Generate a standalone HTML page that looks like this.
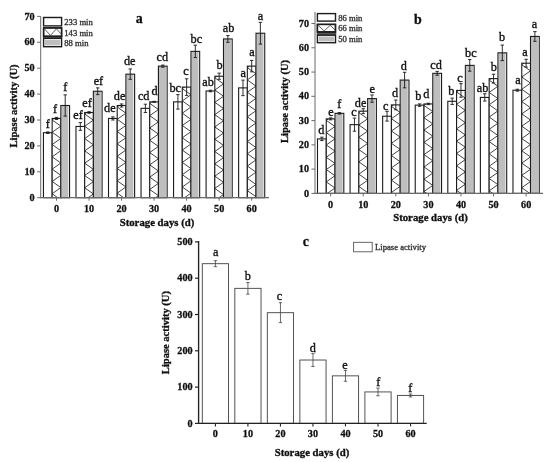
<!DOCTYPE html>
<html><head><meta charset="utf-8"><title>Lipase activity</title>
<style>
html,body{margin:0;padding:0;background:#fff;}
svg{display:block;font-family:"Liberation Serif","DejaVu Serif",serif;}
</style></head><body>
<svg width="550" height="462" viewBox="0 0 550 462">
<defs><filter id="soft" x="0" y="0" width="550" height="462" filterUnits="userSpaceOnUse"><feGaussianBlur stdDeviation="0.4"/></filter></defs>
<rect x="0" y="0" width="550" height="462" fill="#fff"/>
<g filter="url(#soft)">
<rect x="43.45" y="132.69" width="8.70" height="65.01" fill="#fff" stroke="none" stroke-width="0"/>
<rect x="43.45" y="132.69" width="8.70" height="65.01" fill="none" stroke="#1c1c1c" stroke-width="1.1"/>
<line x1="47.80" y1="131.91" x2="47.80" y2="133.47" stroke="#1a1a1a" stroke-width="0.9"/>
<line x1="46.10" y1="131.91" x2="49.50" y2="131.91" stroke="#1a1a1a" stroke-width="0.9"/>
<line x1="46.10" y1="133.47" x2="49.50" y2="133.47" stroke="#1a1a1a" stroke-width="0.9"/>
<rect x="52.15" y="118.45" width="8.70" height="79.25" fill="#fff" stroke="none" stroke-width="0"/>
<clipPath id="c1"><rect x="52.15" y="118.45" width="8.70" height="79.25"/></clipPath>
<polyline clip-path="url(#c1)" points="52.15,107.65 60.85,113.80 52.15,119.95 60.85,126.10 52.15,132.25 60.85,138.40 52.15,144.55 60.85,150.70 52.15,156.85 60.85,163.00 52.15,169.15 60.85,175.30 52.15,181.45 60.85,187.60 52.15,193.75 60.85,199.90" fill="none" stroke="#222" stroke-width="0.85"/>
<rect x="52.15" y="118.45" width="8.70" height="79.25" fill="none" stroke="#1c1c1c" stroke-width="1.1"/>
<line x1="56.50" y1="117.41" x2="56.50" y2="119.48" stroke="#1a1a1a" stroke-width="0.9"/>
<line x1="54.80" y1="117.41" x2="58.20" y2="117.41" stroke="#1a1a1a" stroke-width="0.9"/>
<line x1="54.80" y1="119.48" x2="58.20" y2="119.48" stroke="#1a1a1a" stroke-width="0.9"/>
<rect x="60.85" y="105.50" width="8.70" height="92.20" fill="#fff" stroke="none" stroke-width="0"/>
<rect x="61.45" y="105.50" width="6.90" height="92.20" fill="#bebebe"/>
<rect x="60.85" y="105.50" width="8.70" height="92.20" fill="none" stroke="#1c1c1c" stroke-width="1.1"/>
<line x1="65.20" y1="94.88" x2="65.20" y2="116.11" stroke="#1a1a1a" stroke-width="0.9"/>
<line x1="63.50" y1="94.88" x2="66.90" y2="94.88" stroke="#1a1a1a" stroke-width="0.9"/>
<line x1="63.50" y1="116.11" x2="66.90" y2="116.11" stroke="#1a1a1a" stroke-width="0.9"/>
<rect x="75.98" y="126.47" width="8.70" height="71.22" fill="#fff" stroke="none" stroke-width="0"/>
<rect x="75.98" y="126.47" width="8.70" height="71.22" fill="none" stroke="#1c1c1c" stroke-width="1.1"/>
<line x1="80.33" y1="122.59" x2="80.33" y2="130.36" stroke="#1a1a1a" stroke-width="0.9"/>
<line x1="78.63" y1="122.59" x2="82.03" y2="122.59" stroke="#1a1a1a" stroke-width="0.9"/>
<line x1="78.63" y1="130.36" x2="82.03" y2="130.36" stroke="#1a1a1a" stroke-width="0.9"/>
<rect x="84.68" y="112.49" width="8.70" height="85.21" fill="#fff" stroke="none" stroke-width="0"/>
<clipPath id="c2"><rect x="84.68" y="112.49" width="8.70" height="85.21"/></clipPath>
<polyline clip-path="url(#c2)" points="84.68,101.69 93.38,107.84 84.68,113.99 93.38,120.14 84.68,126.29 93.38,132.44 84.68,138.59 93.38,144.74 84.68,150.89 93.38,157.04 84.68,163.19 93.38,169.34 84.68,175.49 93.38,181.64 84.68,187.79 93.38,193.94 84.68,200.09" fill="none" stroke="#222" stroke-width="0.85"/>
<rect x="84.68" y="112.49" width="8.70" height="85.21" fill="none" stroke="#1c1c1c" stroke-width="1.1"/>
<line x1="89.03" y1="111.71" x2="89.03" y2="113.27" stroke="#1a1a1a" stroke-width="0.9"/>
<line x1="87.33" y1="111.71" x2="90.73" y2="111.71" stroke="#1a1a1a" stroke-width="0.9"/>
<line x1="87.33" y1="113.27" x2="90.73" y2="113.27" stroke="#1a1a1a" stroke-width="0.9"/>
<rect x="93.38" y="91.25" width="8.70" height="106.45" fill="#fff" stroke="none" stroke-width="0"/>
<rect x="93.98" y="91.25" width="6.90" height="106.45" fill="#bebebe"/>
<rect x="93.38" y="91.25" width="8.70" height="106.45" fill="none" stroke="#1c1c1c" stroke-width="1.1"/>
<line x1="97.73" y1="87.88" x2="97.73" y2="94.62" stroke="#1a1a1a" stroke-width="0.9"/>
<line x1="96.03" y1="87.88" x2="99.43" y2="87.88" stroke="#1a1a1a" stroke-width="0.9"/>
<line x1="96.03" y1="94.62" x2="99.43" y2="94.62" stroke="#1a1a1a" stroke-width="0.9"/>
<rect x="108.51" y="118.45" width="8.70" height="79.25" fill="#fff" stroke="none" stroke-width="0"/>
<rect x="108.51" y="118.45" width="8.70" height="79.25" fill="none" stroke="#1c1c1c" stroke-width="1.1"/>
<line x1="112.86" y1="116.89" x2="112.86" y2="120.00" stroke="#1a1a1a" stroke-width="0.9"/>
<line x1="111.16" y1="116.89" x2="114.56" y2="116.89" stroke="#1a1a1a" stroke-width="0.9"/>
<line x1="111.16" y1="120.00" x2="114.56" y2="120.00" stroke="#1a1a1a" stroke-width="0.9"/>
<rect x="117.21" y="105.50" width="8.70" height="92.20" fill="#fff" stroke="none" stroke-width="0"/>
<clipPath id="c3"><rect x="117.21" y="105.50" width="8.70" height="92.20"/></clipPath>
<polyline clip-path="url(#c3)" points="117.21,94.70 125.91,100.85 117.21,107.00 125.91,113.15 117.21,119.30 125.91,125.45 117.21,131.60 125.91,137.75 117.21,143.90 125.91,150.05 117.21,156.20 125.91,162.35 117.21,168.50 125.91,174.65 117.21,180.80 125.91,186.95 117.21,193.10 125.91,199.25" fill="none" stroke="#222" stroke-width="0.85"/>
<rect x="117.21" y="105.50" width="8.70" height="92.20" fill="none" stroke="#1c1c1c" stroke-width="1.1"/>
<line x1="121.56" y1="103.94" x2="121.56" y2="107.05" stroke="#1a1a1a" stroke-width="0.9"/>
<line x1="119.86" y1="103.94" x2="123.26" y2="103.94" stroke="#1a1a1a" stroke-width="0.9"/>
<line x1="119.86" y1="107.05" x2="123.26" y2="107.05" stroke="#1a1a1a" stroke-width="0.9"/>
<rect x="125.91" y="74.16" width="8.70" height="123.54" fill="#fff" stroke="none" stroke-width="0"/>
<rect x="126.51" y="74.16" width="6.90" height="123.54" fill="#bebebe"/>
<rect x="125.91" y="74.16" width="8.70" height="123.54" fill="none" stroke="#1c1c1c" stroke-width="1.1"/>
<line x1="130.26" y1="68.98" x2="130.26" y2="79.34" stroke="#1a1a1a" stroke-width="0.9"/>
<line x1="128.56" y1="68.98" x2="131.96" y2="68.98" stroke="#1a1a1a" stroke-width="0.9"/>
<line x1="128.56" y1="79.34" x2="131.96" y2="79.34" stroke="#1a1a1a" stroke-width="0.9"/>
<rect x="141.04" y="108.34" width="8.70" height="89.35" fill="#fff" stroke="none" stroke-width="0"/>
<rect x="141.04" y="108.34" width="8.70" height="89.35" fill="none" stroke="#1c1c1c" stroke-width="1.1"/>
<line x1="145.39" y1="104.20" x2="145.39" y2="112.49" stroke="#1a1a1a" stroke-width="0.9"/>
<line x1="143.69" y1="104.20" x2="147.09" y2="104.20" stroke="#1a1a1a" stroke-width="0.9"/>
<line x1="143.69" y1="112.49" x2="147.09" y2="112.49" stroke="#1a1a1a" stroke-width="0.9"/>
<rect x="149.74" y="101.87" width="8.70" height="95.83" fill="#fff" stroke="none" stroke-width="0"/>
<clipPath id="c4"><rect x="149.74" y="101.87" width="8.70" height="95.83"/></clipPath>
<polyline clip-path="url(#c4)" points="149.74,91.07 158.44,97.22 149.74,103.37 158.44,109.52 149.74,115.67 158.44,121.82 149.74,127.97 158.44,134.12 149.74,140.27 158.44,146.42 149.74,152.57 158.44,158.72 149.74,164.87 158.44,171.02 149.74,177.17 158.44,183.32 149.74,189.47 158.44,195.62 149.74,201.77" fill="none" stroke="#222" stroke-width="0.85"/>
<rect x="149.74" y="101.87" width="8.70" height="95.83" fill="none" stroke="#1c1c1c" stroke-width="1.1"/>
<line x1="154.09" y1="101.35" x2="154.09" y2="102.39" stroke="#1a1a1a" stroke-width="0.9"/>
<line x1="152.39" y1="101.35" x2="155.79" y2="101.35" stroke="#1a1a1a" stroke-width="0.9"/>
<line x1="152.39" y1="102.39" x2="155.79" y2="102.39" stroke="#1a1a1a" stroke-width="0.9"/>
<rect x="158.44" y="66.13" width="8.70" height="131.57" fill="#fff" stroke="none" stroke-width="0"/>
<rect x="159.04" y="66.13" width="6.90" height="131.57" fill="#bebebe"/>
<rect x="158.44" y="66.13" width="8.70" height="131.57" fill="none" stroke="#1c1c1c" stroke-width="1.1"/>
<line x1="162.79" y1="65.09" x2="162.79" y2="67.16" stroke="#1a1a1a" stroke-width="0.9"/>
<line x1="161.09" y1="65.09" x2="164.49" y2="65.09" stroke="#1a1a1a" stroke-width="0.9"/>
<line x1="161.09" y1="67.16" x2="164.49" y2="67.16" stroke="#1a1a1a" stroke-width="0.9"/>
<rect x="173.57" y="101.87" width="8.70" height="95.83" fill="#fff" stroke="none" stroke-width="0"/>
<rect x="173.57" y="101.87" width="8.70" height="95.83" fill="none" stroke="#1c1c1c" stroke-width="1.1"/>
<line x1="177.92" y1="94.62" x2="177.92" y2="109.12" stroke="#1a1a1a" stroke-width="0.9"/>
<line x1="176.22" y1="94.62" x2="179.62" y2="94.62" stroke="#1a1a1a" stroke-width="0.9"/>
<line x1="176.22" y1="109.12" x2="179.62" y2="109.12" stroke="#1a1a1a" stroke-width="0.9"/>
<rect x="182.27" y="87.11" width="8.70" height="110.59" fill="#fff" stroke="none" stroke-width="0"/>
<clipPath id="c5"><rect x="182.27" y="87.11" width="8.70" height="110.59"/></clipPath>
<polyline clip-path="url(#c5)" points="182.27,76.31 190.97,82.46 182.27,88.61 190.97,94.76 182.27,100.91 190.97,107.06 182.27,113.21 190.97,119.36 182.27,125.51 190.97,131.66 182.27,137.81 190.97,143.96 182.27,150.11 190.97,156.26 182.27,162.41 190.97,168.56 182.27,174.71 190.97,180.86 182.27,187.01 190.97,193.16 182.27,199.31" fill="none" stroke="#222" stroke-width="0.85"/>
<rect x="182.27" y="87.11" width="8.70" height="110.59" fill="none" stroke="#1c1c1c" stroke-width="1.1"/>
<line x1="186.62" y1="78.82" x2="186.62" y2="95.39" stroke="#1a1a1a" stroke-width="0.9"/>
<line x1="184.92" y1="78.82" x2="188.32" y2="78.82" stroke="#1a1a1a" stroke-width="0.9"/>
<line x1="184.92" y1="95.39" x2="188.32" y2="95.39" stroke="#1a1a1a" stroke-width="0.9"/>
<rect x="190.97" y="51.37" width="8.70" height="146.33" fill="#fff" stroke="none" stroke-width="0"/>
<rect x="191.57" y="51.37" width="6.90" height="146.33" fill="#bebebe"/>
<rect x="190.97" y="51.37" width="8.70" height="146.33" fill="none" stroke="#1c1c1c" stroke-width="1.1"/>
<line x1="195.32" y1="45.15" x2="195.32" y2="57.58" stroke="#1a1a1a" stroke-width="0.9"/>
<line x1="193.62" y1="45.15" x2="197.02" y2="45.15" stroke="#1a1a1a" stroke-width="0.9"/>
<line x1="193.62" y1="57.58" x2="197.02" y2="57.58" stroke="#1a1a1a" stroke-width="0.9"/>
<rect x="206.10" y="90.99" width="8.70" height="106.71" fill="#fff" stroke="none" stroke-width="0"/>
<rect x="206.10" y="90.99" width="8.70" height="106.71" fill="none" stroke="#1c1c1c" stroke-width="1.1"/>
<line x1="210.45" y1="90.21" x2="210.45" y2="91.77" stroke="#1a1a1a" stroke-width="0.9"/>
<line x1="208.75" y1="90.21" x2="212.15" y2="90.21" stroke="#1a1a1a" stroke-width="0.9"/>
<line x1="208.75" y1="91.77" x2="212.15" y2="91.77" stroke="#1a1a1a" stroke-width="0.9"/>
<rect x="214.80" y="76.23" width="8.70" height="121.47" fill="#fff" stroke="none" stroke-width="0"/>
<clipPath id="c6"><rect x="214.80" y="76.23" width="8.70" height="121.47"/></clipPath>
<polyline clip-path="url(#c6)" points="214.80,65.43 223.50,71.58 214.80,77.73 223.50,83.88 214.80,90.03 223.50,96.18 214.80,102.33 223.50,108.48 214.80,114.63 223.50,120.78 214.80,126.93 223.50,133.08 214.80,139.23 223.50,145.38 214.80,151.53 223.50,157.68 214.80,163.83 223.50,169.98 214.80,176.13 223.50,182.28 214.80,188.43 223.50,194.58 214.80,200.73" fill="none" stroke="#222" stroke-width="0.85"/>
<rect x="214.80" y="76.23" width="8.70" height="121.47" fill="none" stroke="#1c1c1c" stroke-width="1.1"/>
<line x1="219.15" y1="73.12" x2="219.15" y2="79.34" stroke="#1a1a1a" stroke-width="0.9"/>
<line x1="217.45" y1="73.12" x2="220.85" y2="73.12" stroke="#1a1a1a" stroke-width="0.9"/>
<line x1="217.45" y1="79.34" x2="220.85" y2="79.34" stroke="#1a1a1a" stroke-width="0.9"/>
<rect x="223.50" y="38.93" width="8.70" height="158.77" fill="#fff" stroke="none" stroke-width="0"/>
<rect x="224.10" y="38.93" width="6.90" height="158.77" fill="#bebebe"/>
<rect x="223.50" y="38.93" width="8.70" height="158.77" fill="none" stroke="#1c1c1c" stroke-width="1.1"/>
<line x1="227.85" y1="35.57" x2="227.85" y2="42.30" stroke="#1a1a1a" stroke-width="0.9"/>
<line x1="226.15" y1="35.57" x2="229.55" y2="35.57" stroke="#1a1a1a" stroke-width="0.9"/>
<line x1="226.15" y1="42.30" x2="229.55" y2="42.30" stroke="#1a1a1a" stroke-width="0.9"/>
<rect x="238.63" y="87.88" width="8.70" height="109.82" fill="#fff" stroke="none" stroke-width="0"/>
<rect x="238.63" y="87.88" width="8.70" height="109.82" fill="none" stroke="#1c1c1c" stroke-width="1.1"/>
<line x1="242.98" y1="80.11" x2="242.98" y2="95.65" stroke="#1a1a1a" stroke-width="0.9"/>
<line x1="241.28" y1="80.11" x2="244.68" y2="80.11" stroke="#1a1a1a" stroke-width="0.9"/>
<line x1="241.28" y1="95.65" x2="244.68" y2="95.65" stroke="#1a1a1a" stroke-width="0.9"/>
<rect x="247.33" y="66.13" width="8.70" height="131.57" fill="#fff" stroke="none" stroke-width="0"/>
<clipPath id="c7"><rect x="247.33" y="66.13" width="8.70" height="131.57"/></clipPath>
<polyline clip-path="url(#c7)" points="247.33,55.33 256.03,61.48 247.33,67.63 256.03,73.78 247.33,79.93 256.03,86.08 247.33,92.23 256.03,98.38 247.33,104.53 256.03,110.68 247.33,116.83 256.03,122.98 247.33,129.13 256.03,135.28 247.33,141.43 256.03,147.58 247.33,153.73 256.03,159.88 247.33,166.03 256.03,172.18 247.33,178.33 256.03,184.48 247.33,190.63 256.03,196.78 247.33,202.93" fill="none" stroke="#222" stroke-width="0.85"/>
<rect x="247.33" y="66.13" width="8.70" height="131.57" fill="none" stroke="#1c1c1c" stroke-width="1.1"/>
<line x1="251.68" y1="60.43" x2="251.68" y2="71.83" stroke="#1a1a1a" stroke-width="0.9"/>
<line x1="249.98" y1="60.43" x2="253.38" y2="60.43" stroke="#1a1a1a" stroke-width="0.9"/>
<line x1="249.98" y1="71.83" x2="253.38" y2="71.83" stroke="#1a1a1a" stroke-width="0.9"/>
<rect x="256.03" y="33.23" width="8.70" height="164.47" fill="#fff" stroke="none" stroke-width="0"/>
<rect x="256.63" y="33.23" width="6.90" height="164.47" fill="#bebebe"/>
<rect x="256.03" y="33.23" width="8.70" height="164.47" fill="none" stroke="#1c1c1c" stroke-width="1.1"/>
<line x1="260.38" y1="22.36" x2="260.38" y2="44.11" stroke="#1a1a1a" stroke-width="0.9"/>
<line x1="258.68" y1="22.36" x2="262.08" y2="22.36" stroke="#1a1a1a" stroke-width="0.9"/>
<line x1="258.68" y1="44.11" x2="262.08" y2="44.11" stroke="#1a1a1a" stroke-width="0.9"/>
<line x1="40.70" y1="16.30" x2="40.70" y2="198.20" stroke="#6a6a6a" stroke-width="1"/>
<line x1="40.20" y1="197.70" x2="269.00" y2="197.70" stroke="#6a6a6a" stroke-width="1.2"/>
<line x1="37.10" y1="197.70" x2="40.70" y2="197.70" stroke="#6a6a6a" stroke-width="1"/>
<text transform="translate(34.70,200.80) scale(1.02,0.97)" font-size="10" text-anchor="end" font-weight="bold" fill="#111" stroke="#111" stroke-width="0.3">0</text>
<line x1="37.10" y1="171.80" x2="40.70" y2="171.80" stroke="#6a6a6a" stroke-width="1"/>
<text transform="translate(34.70,174.90) scale(1.02,0.97)" font-size="10" text-anchor="end" font-weight="bold" fill="#111" stroke="#111" stroke-width="0.3">10</text>
<line x1="37.10" y1="145.90" x2="40.70" y2="145.90" stroke="#6a6a6a" stroke-width="1"/>
<text transform="translate(34.70,149.00) scale(1.02,0.97)" font-size="10" text-anchor="end" font-weight="bold" fill="#111" stroke="#111" stroke-width="0.3">20</text>
<line x1="37.10" y1="120.00" x2="40.70" y2="120.00" stroke="#6a6a6a" stroke-width="1"/>
<text transform="translate(34.70,123.10) scale(1.02,0.97)" font-size="10" text-anchor="end" font-weight="bold" fill="#111" stroke="#111" stroke-width="0.3">30</text>
<line x1="37.10" y1="94.10" x2="40.70" y2="94.10" stroke="#6a6a6a" stroke-width="1"/>
<text transform="translate(34.70,97.20) scale(1.02,0.97)" font-size="10" text-anchor="end" font-weight="bold" fill="#111" stroke="#111" stroke-width="0.3">40</text>
<line x1="37.10" y1="68.20" x2="40.70" y2="68.20" stroke="#6a6a6a" stroke-width="1"/>
<text transform="translate(34.70,71.30) scale(1.02,0.97)" font-size="10" text-anchor="end" font-weight="bold" fill="#111" stroke="#111" stroke-width="0.3">50</text>
<line x1="37.10" y1="42.30" x2="40.70" y2="42.30" stroke="#6a6a6a" stroke-width="1"/>
<text transform="translate(34.70,45.40) scale(1.02,0.97)" font-size="10" text-anchor="end" font-weight="bold" fill="#111" stroke="#111" stroke-width="0.3">60</text>
<line x1="37.10" y1="16.40" x2="40.70" y2="16.40" stroke="#6a6a6a" stroke-width="1"/>
<text transform="translate(34.70,19.50) scale(1.02,0.97)" font-size="10" text-anchor="end" font-weight="bold" fill="#111" stroke="#111" stroke-width="0.3">70</text>
<line x1="56.50" y1="197.70" x2="56.50" y2="200.70" stroke="#6a6a6a" stroke-width="1"/>
<text transform="translate(56.50,212.00) scale(1.02,0.97)" font-size="10" text-anchor="middle" font-weight="bold" fill="#111" stroke="#111" stroke-width="0.3">0</text>
<line x1="89.03" y1="197.70" x2="89.03" y2="200.70" stroke="#6a6a6a" stroke-width="1"/>
<text transform="translate(89.03,212.00) scale(1.02,0.97)" font-size="10" text-anchor="middle" font-weight="bold" fill="#111" stroke="#111" stroke-width="0.3">10</text>
<line x1="121.56" y1="197.70" x2="121.56" y2="200.70" stroke="#6a6a6a" stroke-width="1"/>
<text transform="translate(121.56,212.00) scale(1.02,0.97)" font-size="10" text-anchor="middle" font-weight="bold" fill="#111" stroke="#111" stroke-width="0.3">20</text>
<line x1="154.09" y1="197.70" x2="154.09" y2="200.70" stroke="#6a6a6a" stroke-width="1"/>
<text transform="translate(154.09,212.00) scale(1.02,0.97)" font-size="10" text-anchor="middle" font-weight="bold" fill="#111" stroke="#111" stroke-width="0.3">30</text>
<line x1="186.62" y1="197.70" x2="186.62" y2="200.70" stroke="#6a6a6a" stroke-width="1"/>
<text transform="translate(186.62,212.00) scale(1.02,0.97)" font-size="10" text-anchor="middle" font-weight="bold" fill="#111" stroke="#111" stroke-width="0.3">40</text>
<line x1="219.15" y1="197.70" x2="219.15" y2="200.70" stroke="#6a6a6a" stroke-width="1"/>
<text transform="translate(219.15,212.00) scale(1.02,0.97)" font-size="10" text-anchor="middle" font-weight="bold" fill="#111" stroke="#111" stroke-width="0.3">50</text>
<line x1="251.68" y1="197.70" x2="251.68" y2="200.70" stroke="#6a6a6a" stroke-width="1"/>
<text transform="translate(251.68,212.00) scale(1.02,0.97)" font-size="10" text-anchor="middle" font-weight="bold" fill="#111" stroke="#111" stroke-width="0.3">60</text>
<text transform="translate(157.00,226.00) scale(1.075,1.0)" font-size="10" text-anchor="middle" font-weight="bold" fill="#111" stroke="#111" stroke-width="0.3">Storage days (d)</text>
<text transform="translate(17.00,106.00) rotate(-90) scale(1.055,1.08)" font-size="10" text-anchor="middle" font-weight="bold" fill="#111" stroke="#111" stroke-width="0.3">Lipase activity (U)</text>
<text transform="translate(139.30,23.20) scale(0.93,1.0)" font-size="15" text-anchor="middle" font-weight="bold" fill="#111" stroke="#111" stroke-width="0.3">a</text>
<text transform="translate(47.80,128.10) scale(1.0,0.98)" font-size="12.3" text-anchor="middle" fill="#111" stroke="#111" stroke-width="0.35">f</text>
<text transform="translate(55.10,113.20) scale(1.0,0.98)" font-size="12.3" text-anchor="middle" fill="#111" stroke="#111" stroke-width="0.35">f</text>
<text transform="translate(65.40,91.20) scale(1.0,0.98)" font-size="12.3" text-anchor="middle" fill="#111" stroke="#111" stroke-width="0.35">f</text>
<text transform="translate(78.10,119.30) scale(1.0,0.98)" font-size="12.3" text-anchor="middle" fill="#111" stroke="#111" stroke-width="0.35">ef</text>
<text transform="translate(87.00,107.00) scale(1.0,0.98)" font-size="12.3" text-anchor="middle" fill="#111" stroke="#111" stroke-width="0.35">ef</text>
<text transform="translate(98.40,84.60) scale(1.0,0.98)" font-size="12.3" text-anchor="middle" fill="#111" stroke="#111" stroke-width="0.35">ef</text>
<text transform="translate(109.90,112.20) scale(1.0,0.98)" font-size="12.3" text-anchor="middle" fill="#111" stroke="#111" stroke-width="0.35">de</text>
<text transform="translate(119.60,99.70) scale(1.0,0.98)" font-size="12.3" text-anchor="middle" fill="#111" stroke="#111" stroke-width="0.35">de</text>
<text transform="translate(129.70,65.20) scale(1.0,0.98)" font-size="12.3" text-anchor="middle" fill="#111" stroke="#111" stroke-width="0.35">de</text>
<text transform="translate(143.70,100.40) scale(1.0,0.98)" font-size="12.3" text-anchor="middle" fill="#111" stroke="#111" stroke-width="0.35">cd</text>
<text transform="translate(154.50,95.20) scale(1.0,0.98)" font-size="12.3" text-anchor="middle" fill="#111" stroke="#111" stroke-width="0.35">d</text>
<text transform="translate(162.40,60.80) scale(1.0,0.98)" font-size="12.3" text-anchor="middle" fill="#111" stroke="#111" stroke-width="0.35">cd</text>
<text transform="translate(175.20,92.30) scale(1.0,0.98)" font-size="12.3" text-anchor="middle" fill="#111" stroke="#111" stroke-width="0.35">bc</text>
<text transform="translate(186.00,75.40) scale(1.0,0.98)" font-size="12.3" text-anchor="middle" fill="#111" stroke="#111" stroke-width="0.35">c</text>
<text transform="translate(196.30,42.50) scale(1.0,0.98)" font-size="12.3" text-anchor="middle" fill="#111" stroke="#111" stroke-width="0.35">bc</text>
<text transform="translate(208.00,85.50) scale(1.0,0.98)" font-size="12.3" text-anchor="middle" fill="#111" stroke="#111" stroke-width="0.35">ab</text>
<text transform="translate(219.50,68.70) scale(1.0,0.98)" font-size="12.3" text-anchor="middle" fill="#111" stroke="#111" stroke-width="0.35">b</text>
<text transform="translate(228.60,32.30) scale(1.0,0.98)" font-size="12.3" text-anchor="middle" fill="#111" stroke="#111" stroke-width="0.35">ab</text>
<text transform="translate(243.20,76.50) scale(1.0,0.98)" font-size="12.3" text-anchor="middle" fill="#111" stroke="#111" stroke-width="0.35">a</text>
<text transform="translate(252.00,55.90) scale(1.0,0.98)" font-size="12.3" text-anchor="middle" fill="#111" stroke="#111" stroke-width="0.35">a</text>
<text transform="translate(260.40,19.50) scale(1.0,0.98)" font-size="12.3" text-anchor="middle" fill="#111" stroke="#111" stroke-width="0.35">a</text>
<rect x="42.90" y="36.30" width="19.40" height="2.00" fill="#555"/>
<rect x="43.60" y="17.50" width="18.00" height="8.40" fill="#fff" stroke="#1c1c1c" stroke-width="1.4"/>
<text transform="translate(64.30,25.30) scale(0.96,0.97)" font-size="9" text-anchor="start" fill="#333" stroke="#333" stroke-width="0.35">233 min</text>
<rect x="43.60" y="27.90" width="18.00" height="8.40" fill="#fff" stroke="#1c1c1c" stroke-width="1.4"/>
<clipPath id="c8"><rect x="43.60" y="27.90" width="18.00" height="8.40"/></clipPath>
<polyline clip-path="url(#c8)" points="44.40,28.80 50.40,35.40 56.40,28.80 62.40,35.40 68.40,28.80" fill="none" stroke="#333" stroke-width="0.8"/>
<rect x="43.60" y="27.90" width="18.00" height="8.40" fill="none" stroke="#1c1c1c" stroke-width="1.4"/>
<text transform="translate(64.30,35.70) scale(0.96,0.97)" font-size="9" text-anchor="start" fill="#333" stroke="#333" stroke-width="0.35">143 min</text>
<rect x="43.60" y="38.30" width="18.00" height="8.40" fill="#fff" stroke="#1c1c1c" stroke-width="1.4"/>
<rect x="44.90" y="39.60" width="15.40" height="5.80" fill="#bebebe"/>
<text transform="translate(64.30,46.10) scale(0.96,0.97)" font-size="9" text-anchor="start" fill="#333" stroke="#333" stroke-width="0.35">88 min</text>
<rect x="317.50" y="138.88" width="8.77" height="54.53" fill="#fff" stroke="none" stroke-width="0"/>
<rect x="317.50" y="138.88" width="8.77" height="54.53" fill="none" stroke="#1c1c1c" stroke-width="1.1"/>
<line x1="321.88" y1="137.18" x2="321.88" y2="140.57" stroke="#1a1a1a" stroke-width="0.9"/>
<line x1="320.18" y1="137.18" x2="323.58" y2="137.18" stroke="#1a1a1a" stroke-width="0.9"/>
<line x1="320.18" y1="140.57" x2="323.58" y2="140.57" stroke="#1a1a1a" stroke-width="0.9"/>
<rect x="326.26" y="118.87" width="8.77" height="74.53" fill="#fff" stroke="none" stroke-width="0"/>
<clipPath id="c9"><rect x="326.26" y="118.87" width="8.77" height="74.53"/></clipPath>
<polyline clip-path="url(#c9)" points="326.26,108.07 335.03,114.22 326.26,120.37 335.03,126.52 326.26,132.67 335.03,138.82 326.26,144.97 335.03,151.12 326.26,157.27 335.03,163.42 326.26,169.57 335.03,175.72 326.26,181.87 335.03,188.02 326.26,194.17" fill="none" stroke="#222" stroke-width="0.85"/>
<rect x="326.26" y="118.87" width="8.77" height="74.53" fill="none" stroke="#1c1c1c" stroke-width="1.1"/>
<line x1="330.65" y1="117.90" x2="330.65" y2="119.84" stroke="#1a1a1a" stroke-width="0.9"/>
<line x1="328.95" y1="117.90" x2="332.35" y2="117.90" stroke="#1a1a1a" stroke-width="0.9"/>
<line x1="328.95" y1="119.84" x2="332.35" y2="119.84" stroke="#1a1a1a" stroke-width="0.9"/>
<rect x="335.04" y="113.33" width="8.77" height="80.07" fill="#fff" stroke="none" stroke-width="0"/>
<rect x="335.64" y="113.33" width="6.97" height="80.07" fill="#bebebe"/>
<rect x="335.04" y="113.33" width="8.77" height="80.07" fill="none" stroke="#1c1c1c" stroke-width="1.1"/>
<line x1="339.42" y1="112.60" x2="339.42" y2="114.06" stroke="#1a1a1a" stroke-width="0.9"/>
<line x1="337.72" y1="112.60" x2="341.12" y2="112.60" stroke="#1a1a1a" stroke-width="0.9"/>
<line x1="337.72" y1="114.06" x2="341.12" y2="114.06" stroke="#1a1a1a" stroke-width="0.9"/>
<rect x="350.07" y="124.66" width="8.77" height="68.74" fill="#fff" stroke="none" stroke-width="0"/>
<rect x="350.07" y="124.66" width="8.77" height="68.74" fill="none" stroke="#1c1c1c" stroke-width="1.1"/>
<line x1="354.46" y1="118.10" x2="354.46" y2="131.21" stroke="#1a1a1a" stroke-width="0.9"/>
<line x1="352.76" y1="118.10" x2="356.16" y2="118.10" stroke="#1a1a1a" stroke-width="0.9"/>
<line x1="352.76" y1="131.21" x2="356.16" y2="131.21" stroke="#1a1a1a" stroke-width="0.9"/>
<rect x="358.84" y="111.16" width="8.77" height="82.24" fill="#fff" stroke="none" stroke-width="0"/>
<clipPath id="c10"><rect x="358.84" y="111.16" width="8.77" height="82.24"/></clipPath>
<polyline clip-path="url(#c10)" points="358.84,100.36 367.61,106.51 358.84,112.66 367.61,118.81 358.84,124.96 367.61,131.11 358.84,137.26 367.61,143.41 358.84,149.56 367.61,155.71 358.84,161.86 367.61,168.01 358.84,174.16 367.61,180.31 358.84,186.46 367.61,192.61 358.84,198.76" fill="none" stroke="#222" stroke-width="0.85"/>
<rect x="358.84" y="111.16" width="8.77" height="82.24" fill="none" stroke="#1c1c1c" stroke-width="1.1"/>
<line x1="363.23" y1="108.73" x2="363.23" y2="113.59" stroke="#1a1a1a" stroke-width="0.9"/>
<line x1="361.53" y1="108.73" x2="364.93" y2="108.73" stroke="#1a1a1a" stroke-width="0.9"/>
<line x1="361.53" y1="113.59" x2="364.93" y2="113.59" stroke="#1a1a1a" stroke-width="0.9"/>
<rect x="367.62" y="98.63" width="8.77" height="94.77" fill="#fff" stroke="none" stroke-width="0"/>
<rect x="368.22" y="98.63" width="6.97" height="94.77" fill="#bebebe"/>
<rect x="367.62" y="98.63" width="8.77" height="94.77" fill="none" stroke="#1c1c1c" stroke-width="1.1"/>
<line x1="372.00" y1="94.99" x2="372.00" y2="102.27" stroke="#1a1a1a" stroke-width="0.9"/>
<line x1="370.30" y1="94.99" x2="373.70" y2="94.99" stroke="#1a1a1a" stroke-width="0.9"/>
<line x1="370.30" y1="102.27" x2="373.70" y2="102.27" stroke="#1a1a1a" stroke-width="0.9"/>
<rect x="382.65" y="116.22" width="8.77" height="77.18" fill="#fff" stroke="none" stroke-width="0"/>
<rect x="382.65" y="116.22" width="8.77" height="77.18" fill="none" stroke="#1c1c1c" stroke-width="1.1"/>
<line x1="387.04" y1="111.37" x2="387.04" y2="121.08" stroke="#1a1a1a" stroke-width="0.9"/>
<line x1="385.34" y1="111.37" x2="388.74" y2="111.37" stroke="#1a1a1a" stroke-width="0.9"/>
<line x1="385.34" y1="121.08" x2="388.74" y2="121.08" stroke="#1a1a1a" stroke-width="0.9"/>
<rect x="391.42" y="104.89" width="8.77" height="88.51" fill="#fff" stroke="none" stroke-width="0"/>
<clipPath id="c11"><rect x="391.42" y="104.89" width="8.77" height="88.51"/></clipPath>
<polyline clip-path="url(#c11)" points="391.42,94.09 400.19,100.24 391.42,106.39 400.19,112.54 391.42,118.69 400.19,124.84 391.42,130.99 400.19,137.14 391.42,143.29 400.19,149.44 391.42,155.59 400.19,161.74 391.42,167.89 400.19,174.04 391.42,180.19 400.19,186.34 391.42,192.49 400.19,198.64" fill="none" stroke="#222" stroke-width="0.85"/>
<rect x="391.42" y="104.89" width="8.77" height="88.51" fill="none" stroke="#1c1c1c" stroke-width="1.1"/>
<line x1="395.81" y1="100.04" x2="395.81" y2="109.75" stroke="#1a1a1a" stroke-width="0.9"/>
<line x1="394.11" y1="100.04" x2="397.51" y2="100.04" stroke="#1a1a1a" stroke-width="0.9"/>
<line x1="394.11" y1="109.75" x2="397.51" y2="109.75" stroke="#1a1a1a" stroke-width="0.9"/>
<rect x="400.19" y="80.07" width="8.77" height="113.33" fill="#fff" stroke="none" stroke-width="0"/>
<rect x="400.80" y="80.07" width="6.97" height="113.33" fill="#bebebe"/>
<rect x="400.19" y="80.07" width="8.77" height="113.33" fill="none" stroke="#1c1c1c" stroke-width="1.1"/>
<line x1="404.58" y1="72.30" x2="404.58" y2="87.84" stroke="#1a1a1a" stroke-width="0.9"/>
<line x1="402.88" y1="72.30" x2="406.28" y2="72.30" stroke="#1a1a1a" stroke-width="0.9"/>
<line x1="402.88" y1="87.84" x2="406.28" y2="87.84" stroke="#1a1a1a" stroke-width="0.9"/>
<rect x="415.24" y="105.13" width="8.77" height="88.27" fill="#fff" stroke="none" stroke-width="0"/>
<rect x="415.24" y="105.13" width="8.77" height="88.27" fill="none" stroke="#1c1c1c" stroke-width="1.1"/>
<line x1="419.62" y1="103.92" x2="419.62" y2="106.35" stroke="#1a1a1a" stroke-width="0.9"/>
<line x1="417.92" y1="103.92" x2="421.32" y2="103.92" stroke="#1a1a1a" stroke-width="0.9"/>
<line x1="417.92" y1="106.35" x2="421.32" y2="106.35" stroke="#1a1a1a" stroke-width="0.9"/>
<rect x="424.00" y="103.93" width="8.77" height="89.47" fill="#fff" stroke="none" stroke-width="0"/>
<clipPath id="c12"><rect x="424.00" y="103.93" width="8.77" height="89.47"/></clipPath>
<polyline clip-path="url(#c12)" points="424.00,93.13 432.77,99.28 424.00,105.43 432.77,111.58 424.00,117.73 432.77,123.88 424.00,130.03 432.77,136.18 424.00,142.33 432.77,148.48 424.00,154.63 432.77,160.78 424.00,166.93 432.77,173.08 424.00,179.23 432.77,185.38 424.00,191.53 432.77,197.68" fill="none" stroke="#222" stroke-width="0.85"/>
<rect x="424.00" y="103.93" width="8.77" height="89.47" fill="none" stroke="#1c1c1c" stroke-width="1.1"/>
<line x1="428.39" y1="103.20" x2="428.39" y2="104.66" stroke="#1a1a1a" stroke-width="0.9"/>
<line x1="426.69" y1="103.20" x2="430.09" y2="103.20" stroke="#1a1a1a" stroke-width="0.9"/>
<line x1="426.69" y1="104.66" x2="430.09" y2="104.66" stroke="#1a1a1a" stroke-width="0.9"/>
<rect x="432.78" y="73.32" width="8.77" height="120.08" fill="#fff" stroke="none" stroke-width="0"/>
<rect x="433.38" y="73.32" width="6.97" height="120.08" fill="#bebebe"/>
<rect x="432.78" y="73.32" width="8.77" height="120.08" fill="none" stroke="#1c1c1c" stroke-width="1.1"/>
<line x1="437.16" y1="71.38" x2="437.16" y2="75.26" stroke="#1a1a1a" stroke-width="0.9"/>
<line x1="435.46" y1="71.38" x2="438.86" y2="71.38" stroke="#1a1a1a" stroke-width="0.9"/>
<line x1="435.46" y1="75.26" x2="438.86" y2="75.26" stroke="#1a1a1a" stroke-width="0.9"/>
<rect x="447.81" y="101.28" width="8.77" height="92.12" fill="#fff" stroke="none" stroke-width="0"/>
<rect x="447.81" y="101.28" width="8.77" height="92.12" fill="none" stroke="#1c1c1c" stroke-width="1.1"/>
<line x1="452.20" y1="98.12" x2="452.20" y2="104.43" stroke="#1a1a1a" stroke-width="0.9"/>
<line x1="450.50" y1="98.12" x2="453.90" y2="98.12" stroke="#1a1a1a" stroke-width="0.9"/>
<line x1="450.50" y1="104.43" x2="453.90" y2="104.43" stroke="#1a1a1a" stroke-width="0.9"/>
<rect x="456.58" y="90.43" width="8.77" height="102.97" fill="#fff" stroke="none" stroke-width="0"/>
<clipPath id="c13"><rect x="456.58" y="90.43" width="8.77" height="102.97"/></clipPath>
<polyline clip-path="url(#c13)" points="456.58,79.63 465.35,85.78 456.58,91.93 465.35,98.08 456.58,104.23 465.35,110.38 456.58,116.53 465.35,122.68 456.58,128.83 465.35,134.98 456.58,141.13 465.35,147.28 456.58,153.43 465.35,159.58 456.58,165.73 465.35,171.88 456.58,178.03 465.35,184.18 456.58,190.33 465.35,196.48" fill="none" stroke="#222" stroke-width="0.85"/>
<rect x="456.58" y="90.43" width="8.77" height="102.97" fill="none" stroke="#1c1c1c" stroke-width="1.1"/>
<line x1="460.97" y1="83.64" x2="460.97" y2="97.23" stroke="#1a1a1a" stroke-width="0.9"/>
<line x1="459.27" y1="83.64" x2="462.67" y2="83.64" stroke="#1a1a1a" stroke-width="0.9"/>
<line x1="459.27" y1="97.23" x2="462.67" y2="97.23" stroke="#1a1a1a" stroke-width="0.9"/>
<rect x="465.36" y="65.37" width="8.77" height="128.03" fill="#fff" stroke="none" stroke-width="0"/>
<rect x="465.96" y="65.37" width="6.97" height="128.03" fill="#bebebe"/>
<rect x="465.36" y="65.37" width="8.77" height="128.03" fill="none" stroke="#1c1c1c" stroke-width="1.1"/>
<line x1="469.74" y1="59.55" x2="469.74" y2="71.19" stroke="#1a1a1a" stroke-width="0.9"/>
<line x1="468.04" y1="59.55" x2="471.44" y2="59.55" stroke="#1a1a1a" stroke-width="0.9"/>
<line x1="468.04" y1="71.19" x2="471.44" y2="71.19" stroke="#1a1a1a" stroke-width="0.9"/>
<rect x="480.39" y="97.42" width="8.77" height="95.98" fill="#fff" stroke="none" stroke-width="0"/>
<rect x="480.39" y="97.42" width="8.77" height="95.98" fill="none" stroke="#1c1c1c" stroke-width="1.1"/>
<line x1="484.78" y1="93.78" x2="484.78" y2="101.06" stroke="#1a1a1a" stroke-width="0.9"/>
<line x1="483.08" y1="93.78" x2="486.48" y2="93.78" stroke="#1a1a1a" stroke-width="0.9"/>
<line x1="483.08" y1="101.06" x2="486.48" y2="101.06" stroke="#1a1a1a" stroke-width="0.9"/>
<rect x="489.16" y="78.62" width="8.77" height="114.78" fill="#fff" stroke="none" stroke-width="0"/>
<clipPath id="c14"><rect x="489.16" y="78.62" width="8.77" height="114.78"/></clipPath>
<polyline clip-path="url(#c14)" points="489.16,67.83 497.93,73.98 489.16,80.13 497.93,86.28 489.16,92.43 497.93,98.58 489.16,104.73 497.93,110.88 489.16,117.03 497.93,123.18 489.16,129.33 497.93,135.48 489.16,141.63 497.93,147.78 489.16,153.93 497.93,160.08 489.16,166.23 497.93,172.38 489.16,178.53 497.93,184.68 489.16,190.83 497.93,196.98" fill="none" stroke="#222" stroke-width="0.85"/>
<rect x="489.16" y="78.62" width="8.77" height="114.78" fill="none" stroke="#1c1c1c" stroke-width="1.1"/>
<line x1="493.55" y1="74.26" x2="493.55" y2="82.99" stroke="#1a1a1a" stroke-width="0.9"/>
<line x1="491.85" y1="74.26" x2="495.25" y2="74.26" stroke="#1a1a1a" stroke-width="0.9"/>
<line x1="491.85" y1="82.99" x2="495.25" y2="82.99" stroke="#1a1a1a" stroke-width="0.9"/>
<rect x="497.94" y="52.84" width="8.77" height="140.56" fill="#fff" stroke="none" stroke-width="0"/>
<rect x="498.54" y="52.84" width="6.97" height="140.56" fill="#bebebe"/>
<rect x="497.94" y="52.84" width="8.77" height="140.56" fill="none" stroke="#1c1c1c" stroke-width="1.1"/>
<line x1="502.32" y1="45.07" x2="502.32" y2="60.60" stroke="#1a1a1a" stroke-width="0.9"/>
<line x1="500.62" y1="45.07" x2="504.02" y2="45.07" stroke="#1a1a1a" stroke-width="0.9"/>
<line x1="500.62" y1="60.60" x2="504.02" y2="60.60" stroke="#1a1a1a" stroke-width="0.9"/>
<rect x="512.98" y="90.19" width="8.77" height="103.21" fill="#fff" stroke="none" stroke-width="0"/>
<rect x="512.98" y="90.19" width="8.77" height="103.21" fill="none" stroke="#1c1c1c" stroke-width="1.1"/>
<line x1="517.36" y1="89.22" x2="517.36" y2="91.16" stroke="#1a1a1a" stroke-width="0.9"/>
<line x1="515.66" y1="89.22" x2="519.06" y2="89.22" stroke="#1a1a1a" stroke-width="0.9"/>
<line x1="515.66" y1="91.16" x2="519.06" y2="91.16" stroke="#1a1a1a" stroke-width="0.9"/>
<rect x="521.75" y="63.20" width="8.77" height="130.20" fill="#fff" stroke="none" stroke-width="0"/>
<clipPath id="c15"><rect x="521.75" y="63.20" width="8.77" height="130.20"/></clipPath>
<polyline clip-path="url(#c15)" points="521.75,52.40 530.51,58.55 521.75,64.70 530.51,70.85 521.75,77.00 530.51,83.15 521.75,89.30 530.51,95.45 521.75,101.60 530.51,107.75 521.75,113.90 530.51,120.05 521.75,126.20 530.51,132.35 521.75,138.50 530.51,144.65 521.75,150.80 530.51,156.95 521.75,163.10 530.51,169.25 521.75,175.40 530.51,181.55 521.75,187.70 530.51,193.85" fill="none" stroke="#222" stroke-width="0.85"/>
<rect x="521.75" y="63.20" width="8.77" height="130.20" fill="none" stroke="#1c1c1c" stroke-width="1.1"/>
<line x1="526.13" y1="59.32" x2="526.13" y2="67.08" stroke="#1a1a1a" stroke-width="0.9"/>
<line x1="524.43" y1="59.32" x2="527.83" y2="59.32" stroke="#1a1a1a" stroke-width="0.9"/>
<line x1="524.43" y1="67.08" x2="527.83" y2="67.08" stroke="#1a1a1a" stroke-width="0.9"/>
<rect x="530.51" y="36.45" width="8.77" height="156.95" fill="#fff" stroke="none" stroke-width="0"/>
<rect x="531.12" y="36.45" width="6.97" height="156.95" fill="#bebebe"/>
<rect x="530.51" y="36.45" width="8.77" height="156.95" fill="none" stroke="#1c1c1c" stroke-width="1.1"/>
<line x1="534.90" y1="31.60" x2="534.90" y2="41.30" stroke="#1a1a1a" stroke-width="0.9"/>
<line x1="533.20" y1="31.60" x2="536.60" y2="31.60" stroke="#1a1a1a" stroke-width="0.9"/>
<line x1="533.20" y1="41.30" x2="536.60" y2="41.30" stroke="#1a1a1a" stroke-width="0.9"/>
<line x1="315.00" y1="11.90" x2="315.00" y2="193.90" stroke="#6a6a6a" stroke-width="1"/>
<line x1="314.50" y1="193.40" x2="543.10" y2="193.40" stroke="#6a6a6a" stroke-width="1.2"/>
<line x1="311.40" y1="193.40" x2="315.00" y2="193.40" stroke="#6a6a6a" stroke-width="1"/>
<text transform="translate(309.00,196.50) scale(1.02,0.97)" font-size="10" text-anchor="end" font-weight="bold" fill="#111" stroke="#111" stroke-width="0.3">0</text>
<line x1="311.40" y1="169.13" x2="315.00" y2="169.13" stroke="#6a6a6a" stroke-width="1"/>
<text transform="translate(309.00,172.23) scale(1.02,0.97)" font-size="10" text-anchor="end" font-weight="bold" fill="#111" stroke="#111" stroke-width="0.3">10</text>
<line x1="311.40" y1="144.86" x2="315.00" y2="144.86" stroke="#6a6a6a" stroke-width="1"/>
<text transform="translate(309.00,147.96) scale(1.02,0.97)" font-size="10" text-anchor="end" font-weight="bold" fill="#111" stroke="#111" stroke-width="0.3">20</text>
<line x1="311.40" y1="120.59" x2="315.00" y2="120.59" stroke="#6a6a6a" stroke-width="1"/>
<text transform="translate(309.00,123.69) scale(1.02,0.97)" font-size="10" text-anchor="end" font-weight="bold" fill="#111" stroke="#111" stroke-width="0.3">30</text>
<line x1="311.40" y1="96.32" x2="315.00" y2="96.32" stroke="#6a6a6a" stroke-width="1"/>
<text transform="translate(309.00,99.42) scale(1.02,0.97)" font-size="10" text-anchor="end" font-weight="bold" fill="#111" stroke="#111" stroke-width="0.3">40</text>
<line x1="311.40" y1="72.05" x2="315.00" y2="72.05" stroke="#6a6a6a" stroke-width="1"/>
<text transform="translate(309.00,75.15) scale(1.02,0.97)" font-size="10" text-anchor="end" font-weight="bold" fill="#111" stroke="#111" stroke-width="0.3">50</text>
<line x1="311.40" y1="47.78" x2="315.00" y2="47.78" stroke="#6a6a6a" stroke-width="1"/>
<text transform="translate(309.00,50.88) scale(1.02,0.97)" font-size="10" text-anchor="end" font-weight="bold" fill="#111" stroke="#111" stroke-width="0.3">60</text>
<line x1="311.40" y1="23.51" x2="315.00" y2="23.51" stroke="#6a6a6a" stroke-width="1"/>
<text transform="translate(309.00,26.61) scale(1.02,0.97)" font-size="10" text-anchor="end" font-weight="bold" fill="#111" stroke="#111" stroke-width="0.3">70</text>
<line x1="330.65" y1="193.40" x2="330.65" y2="196.40" stroke="#6a6a6a" stroke-width="1"/>
<text transform="translate(330.65,207.80) scale(1.02,0.97)" font-size="10" text-anchor="middle" font-weight="bold" fill="#111" stroke="#111" stroke-width="0.3">0</text>
<line x1="363.23" y1="193.40" x2="363.23" y2="196.40" stroke="#6a6a6a" stroke-width="1"/>
<text transform="translate(363.23,207.80) scale(1.02,0.97)" font-size="10" text-anchor="middle" font-weight="bold" fill="#111" stroke="#111" stroke-width="0.3">10</text>
<line x1="395.81" y1="193.40" x2="395.81" y2="196.40" stroke="#6a6a6a" stroke-width="1"/>
<text transform="translate(395.81,207.80) scale(1.02,0.97)" font-size="10" text-anchor="middle" font-weight="bold" fill="#111" stroke="#111" stroke-width="0.3">20</text>
<line x1="428.39" y1="193.40" x2="428.39" y2="196.40" stroke="#6a6a6a" stroke-width="1"/>
<text transform="translate(428.39,207.80) scale(1.02,0.97)" font-size="10" text-anchor="middle" font-weight="bold" fill="#111" stroke="#111" stroke-width="0.3">30</text>
<line x1="460.97" y1="193.40" x2="460.97" y2="196.40" stroke="#6a6a6a" stroke-width="1"/>
<text transform="translate(460.97,207.80) scale(1.02,0.97)" font-size="10" text-anchor="middle" font-weight="bold" fill="#111" stroke="#111" stroke-width="0.3">40</text>
<line x1="493.55" y1="193.40" x2="493.55" y2="196.40" stroke="#6a6a6a" stroke-width="1"/>
<text transform="translate(493.55,207.80) scale(1.02,0.97)" font-size="10" text-anchor="middle" font-weight="bold" fill="#111" stroke="#111" stroke-width="0.3">50</text>
<line x1="526.13" y1="193.40" x2="526.13" y2="196.40" stroke="#6a6a6a" stroke-width="1"/>
<text transform="translate(526.13,207.80) scale(1.02,0.97)" font-size="10" text-anchor="middle" font-weight="bold" fill="#111" stroke="#111" stroke-width="0.3">60</text>
<text transform="translate(430.50,221.00) scale(1.075,1.0)" font-size="10" text-anchor="middle" font-weight="bold" fill="#111" stroke="#111" stroke-width="0.3">Storage days (d)</text>
<text transform="translate(287.50,101.40) rotate(-90) scale(1.055,1.08)" font-size="10" text-anchor="middle" font-weight="bold" fill="#111" stroke="#111" stroke-width="0.3">Lipase activity (U)</text>
<text transform="translate(417.80,23.70) scale(0.93,1.0)" font-size="15" text-anchor="middle" font-weight="bold" fill="#111" stroke="#111" stroke-width="0.3">b</text>
<text transform="translate(321.30,133.60) scale(1.0,0.98)" font-size="12.3" text-anchor="middle" fill="#111" stroke="#111" stroke-width="0.35">d</text>
<text transform="translate(331.00,115.50) scale(1.0,0.98)" font-size="12.3" text-anchor="middle" fill="#111" stroke="#111" stroke-width="0.35">e</text>
<text transform="translate(339.40,108.20) scale(1.0,0.98)" font-size="12.3" text-anchor="middle" fill="#111" stroke="#111" stroke-width="0.35">f</text>
<text transform="translate(353.90,115.50) scale(1.0,0.98)" font-size="12.3" text-anchor="middle" fill="#111" stroke="#111" stroke-width="0.35">c</text>
<text transform="translate(360.60,106.90) scale(1.0,0.98)" font-size="12.3" text-anchor="middle" fill="#111" stroke="#111" stroke-width="0.35">de</text>
<text transform="translate(372.30,93.10) scale(1.0,0.98)" font-size="12.3" text-anchor="middle" fill="#111" stroke="#111" stroke-width="0.35">e</text>
<text transform="translate(385.70,109.50) scale(1.0,0.98)" font-size="12.3" text-anchor="middle" fill="#111" stroke="#111" stroke-width="0.35">c</text>
<text transform="translate(395.00,96.80) scale(1.0,0.98)" font-size="12.3" text-anchor="middle" fill="#111" stroke="#111" stroke-width="0.35">d</text>
<text transform="translate(403.80,70.10) scale(1.0,0.98)" font-size="12.3" text-anchor="middle" fill="#111" stroke="#111" stroke-width="0.35">d</text>
<text transform="translate(418.40,99.90) scale(1.0,0.98)" font-size="12.3" text-anchor="middle" fill="#111" stroke="#111" stroke-width="0.35">b</text>
<text transform="translate(426.40,97.90) scale(1.0,0.98)" font-size="12.3" text-anchor="middle" fill="#111" stroke="#111" stroke-width="0.35">d</text>
<text transform="translate(436.00,68.70) scale(1.0,0.98)" font-size="12.3" text-anchor="middle" fill="#111" stroke="#111" stroke-width="0.35">cd</text>
<text transform="translate(451.20,94.70) scale(1.0,0.98)" font-size="12.3" text-anchor="middle" fill="#111" stroke="#111" stroke-width="0.35">b</text>
<text transform="translate(460.00,81.80) scale(1.0,0.98)" font-size="12.3" text-anchor="middle" fill="#111" stroke="#111" stroke-width="0.35">c</text>
<text transform="translate(470.90,56.70) scale(1.0,0.98)" font-size="12.3" text-anchor="middle" fill="#111" stroke="#111" stroke-width="0.35">bc</text>
<text transform="translate(482.50,92.00) scale(1.0,0.98)" font-size="12.3" text-anchor="middle" fill="#111" stroke="#111" stroke-width="0.35">ab</text>
<text transform="translate(493.70,71.00) scale(1.0,0.98)" font-size="12.3" text-anchor="middle" fill="#111" stroke="#111" stroke-width="0.35">b</text>
<text transform="translate(502.10,41.40) scale(1.0,0.98)" font-size="12.3" text-anchor="middle" fill="#111" stroke="#111" stroke-width="0.35">b</text>
<text transform="translate(518.00,84.30) scale(1.0,0.98)" font-size="12.3" text-anchor="middle" fill="#111" stroke="#111" stroke-width="0.35">a</text>
<text transform="translate(525.00,55.90) scale(1.0,0.98)" font-size="12.3" text-anchor="middle" fill="#111" stroke="#111" stroke-width="0.35">a</text>
<text transform="translate(534.50,27.80) scale(1.0,0.98)" font-size="12.3" text-anchor="middle" fill="#111" stroke="#111" stroke-width="0.35">a</text>
<rect x="316.70" y="31.90" width="19.50" height="3.30" fill="#555"/>
<rect x="317.40" y="13.60" width="18.10" height="7.50" fill="#fff" stroke="#1c1c1c" stroke-width="1.4"/>
<text transform="translate(338.20,20.50) scale(0.96,0.97)" font-size="9" text-anchor="start" fill="#333" stroke="#333" stroke-width="0.35">86 min</text>
<rect x="317.40" y="24.40" width="18.10" height="7.50" fill="#fff" stroke="#1c1c1c" stroke-width="1.4"/>
<clipPath id="c16"><rect x="317.40" y="24.40" width="18.10" height="7.50"/></clipPath>
<polyline clip-path="url(#c16)" points="318.20,25.30 324.20,31.00 330.20,25.30 336.20,31.00 342.20,25.30" fill="none" stroke="#333" stroke-width="0.8"/>
<rect x="317.40" y="24.40" width="18.10" height="7.50" fill="none" stroke="#1c1c1c" stroke-width="1.4"/>
<text transform="translate(338.20,31.30) scale(0.96,0.97)" font-size="9" text-anchor="start" fill="#333" stroke="#333" stroke-width="0.35">66 min</text>
<rect x="317.40" y="35.20" width="18.10" height="7.50" fill="#fff" stroke="#1c1c1c" stroke-width="1.4"/>
<rect x="318.70" y="36.50" width="15.50" height="4.90" fill="#bebebe"/>
<text transform="translate(338.20,42.10) scale(0.96,0.97)" font-size="9" text-anchor="start" fill="#333" stroke="#333" stroke-width="0.35">50 min</text>
<rect x="202.30" y="263.68" width="26.20" height="159.72" fill="#fff" stroke="#4a4a4a" stroke-width="0.95"/>
<line x1="215.40" y1="260.67" x2="215.40" y2="266.69" stroke="#444" stroke-width="0.8"/>
<line x1="213.70" y1="260.67" x2="217.10" y2="260.67" stroke="#444" stroke-width="0.8"/>
<line x1="213.70" y1="266.69" x2="217.10" y2="266.69" stroke="#444" stroke-width="0.8"/>
<rect x="234.82" y="288.36" width="26.20" height="135.04" fill="#fff" stroke="#4a4a4a" stroke-width="0.95"/>
<line x1="247.92" y1="282.56" x2="247.92" y2="294.17" stroke="#444" stroke-width="0.8"/>
<line x1="246.22" y1="282.56" x2="249.62" y2="282.56" stroke="#444" stroke-width="0.8"/>
<line x1="246.22" y1="294.17" x2="249.62" y2="294.17" stroke="#444" stroke-width="0.8"/>
<rect x="267.34" y="312.68" width="26.20" height="110.72" fill="#fff" stroke="#4a4a4a" stroke-width="0.95"/>
<line x1="280.44" y1="302.70" x2="280.44" y2="322.67" stroke="#444" stroke-width="0.8"/>
<line x1="278.74" y1="302.70" x2="282.14" y2="302.70" stroke="#444" stroke-width="0.8"/>
<line x1="278.74" y1="322.67" x2="282.14" y2="322.67" stroke="#444" stroke-width="0.8"/>
<rect x="299.86" y="360.02" width="26.20" height="63.38" fill="#fff" stroke="#4a4a4a" stroke-width="0.95"/>
<line x1="312.96" y1="353.63" x2="312.96" y2="366.41" stroke="#444" stroke-width="0.8"/>
<line x1="311.26" y1="353.63" x2="314.66" y2="353.63" stroke="#444" stroke-width="0.8"/>
<line x1="311.26" y1="366.41" x2="314.66" y2="366.41" stroke="#444" stroke-width="0.8"/>
<rect x="332.38" y="375.85" width="26.20" height="47.55" fill="#fff" stroke="#4a4a4a" stroke-width="0.95"/>
<line x1="345.48" y1="370.40" x2="345.48" y2="381.29" stroke="#444" stroke-width="0.8"/>
<line x1="343.78" y1="370.40" x2="347.18" y2="370.40" stroke="#444" stroke-width="0.8"/>
<line x1="343.78" y1="381.29" x2="347.18" y2="381.29" stroke="#444" stroke-width="0.8"/>
<rect x="364.90" y="391.93" width="26.20" height="31.47" fill="#fff" stroke="#4a4a4a" stroke-width="0.95"/>
<line x1="378.00" y1="388.08" x2="378.00" y2="395.78" stroke="#444" stroke-width="0.8"/>
<line x1="376.30" y1="388.08" x2="379.70" y2="388.08" stroke="#444" stroke-width="0.8"/>
<line x1="376.30" y1="395.78" x2="379.70" y2="395.78" stroke="#444" stroke-width="0.8"/>
<rect x="397.42" y="395.45" width="26.20" height="27.95" fill="#fff" stroke="#4a4a4a" stroke-width="0.95"/>
<line x1="410.52" y1="394.00" x2="410.52" y2="396.90" stroke="#444" stroke-width="0.8"/>
<line x1="408.82" y1="394.00" x2="412.22" y2="394.00" stroke="#444" stroke-width="0.8"/>
<line x1="408.82" y1="396.90" x2="412.22" y2="396.90" stroke="#444" stroke-width="0.8"/>
<line x1="198.60" y1="241.00" x2="198.60" y2="424.00" stroke="#222" stroke-width="1.35"/>
<line x1="198.00" y1="423.40" x2="426.70" y2="423.40" stroke="#222" stroke-width="1.35"/>
<line x1="195.00" y1="423.40" x2="198.60" y2="423.40" stroke="#222" stroke-width="1.2"/>
<text transform="translate(192.60,426.50) scale(1.02,0.97)" font-size="10" text-anchor="end" font-weight="bold" fill="#111" stroke="#111" stroke-width="0.3">0</text>
<line x1="195.00" y1="387.10" x2="198.60" y2="387.10" stroke="#222" stroke-width="1.2"/>
<text transform="translate(192.60,390.20) scale(1.02,0.97)" font-size="10" text-anchor="end" font-weight="bold" fill="#111" stroke="#111" stroke-width="0.3">100</text>
<line x1="195.00" y1="350.80" x2="198.60" y2="350.80" stroke="#222" stroke-width="1.2"/>
<text transform="translate(192.60,353.90) scale(1.02,0.97)" font-size="10" text-anchor="end" font-weight="bold" fill="#111" stroke="#111" stroke-width="0.3">200</text>
<line x1="195.00" y1="314.50" x2="198.60" y2="314.50" stroke="#222" stroke-width="1.2"/>
<text transform="translate(192.60,317.60) scale(1.02,0.97)" font-size="10" text-anchor="end" font-weight="bold" fill="#111" stroke="#111" stroke-width="0.3">300</text>
<line x1="195.00" y1="278.20" x2="198.60" y2="278.20" stroke="#222" stroke-width="1.2"/>
<text transform="translate(192.60,281.30) scale(1.02,0.97)" font-size="10" text-anchor="end" font-weight="bold" fill="#111" stroke="#111" stroke-width="0.3">400</text>
<line x1="195.00" y1="241.90" x2="198.60" y2="241.90" stroke="#222" stroke-width="1.2"/>
<text transform="translate(192.60,245.00) scale(1.02,0.97)" font-size="10" text-anchor="end" font-weight="bold" fill="#111" stroke="#111" stroke-width="0.3">500</text>
<line x1="215.40" y1="423.40" x2="215.40" y2="426.40" stroke="#222" stroke-width="1.1"/>
<text transform="translate(215.40,437.30) scale(1.02,0.97)" font-size="10" text-anchor="middle" font-weight="bold" fill="#111" stroke="#111" stroke-width="0.3">0</text>
<line x1="247.92" y1="423.40" x2="247.92" y2="426.40" stroke="#222" stroke-width="1.1"/>
<text transform="translate(247.92,437.30) scale(1.02,0.97)" font-size="10" text-anchor="middle" font-weight="bold" fill="#111" stroke="#111" stroke-width="0.3">10</text>
<line x1="280.44" y1="423.40" x2="280.44" y2="426.40" stroke="#222" stroke-width="1.1"/>
<text transform="translate(280.44,437.30) scale(1.02,0.97)" font-size="10" text-anchor="middle" font-weight="bold" fill="#111" stroke="#111" stroke-width="0.3">20</text>
<line x1="312.96" y1="423.40" x2="312.96" y2="426.40" stroke="#222" stroke-width="1.1"/>
<text transform="translate(312.96,437.30) scale(1.02,0.97)" font-size="10" text-anchor="middle" font-weight="bold" fill="#111" stroke="#111" stroke-width="0.3">30</text>
<line x1="345.48" y1="423.40" x2="345.48" y2="426.40" stroke="#222" stroke-width="1.1"/>
<text transform="translate(345.48,437.30) scale(1.02,0.97)" font-size="10" text-anchor="middle" font-weight="bold" fill="#111" stroke="#111" stroke-width="0.3">40</text>
<line x1="378.00" y1="423.40" x2="378.00" y2="426.40" stroke="#222" stroke-width="1.1"/>
<text transform="translate(378.00,437.30) scale(1.02,0.97)" font-size="10" text-anchor="middle" font-weight="bold" fill="#111" stroke="#111" stroke-width="0.3">50</text>
<line x1="410.52" y1="423.40" x2="410.52" y2="426.40" stroke="#222" stroke-width="1.1"/>
<text transform="translate(410.52,437.30) scale(1.02,0.97)" font-size="10" text-anchor="middle" font-weight="bold" fill="#111" stroke="#111" stroke-width="0.3">60</text>
<text transform="translate(312.00,455.50) scale(1.075,1.0)" font-size="10" text-anchor="middle" font-weight="bold" fill="#111" stroke="#111" stroke-width="0.3">Storage days (d)</text>
<text transform="translate(169.20,332.60) rotate(-90) scale(1.055,1.08)" font-size="10" text-anchor="middle" font-weight="bold" fill="#111" stroke="#111" stroke-width="0.3">Lipase activity (U)</text>
<text transform="translate(305.90,246.20) scale(0.93,1.0)" font-size="15" text-anchor="middle" font-weight="bold" fill="#111" stroke="#111" stroke-width="0.3">c</text>
<rect x="353.60" y="242.30" width="18.60" height="9.50" fill="#fff" stroke="#555" stroke-width="0.9"/>
<text transform="translate(375.00,250.30) scale(0.96,0.97)" font-size="9" text-anchor="start" fill="#333" stroke="#333" stroke-width="0.35">Lipase activity</text>
<text transform="translate(215.70,256.00) scale(1.0,0.98)" font-size="12.3" text-anchor="middle" fill="#111" stroke="#111" stroke-width="0.35">a</text>
<text transform="translate(247.90,279.90) scale(1.0,0.98)" font-size="12.3" text-anchor="middle" fill="#111" stroke="#111" stroke-width="0.35">b</text>
<text transform="translate(279.40,299.60) scale(1.0,0.98)" font-size="12.3" text-anchor="middle" fill="#111" stroke="#111" stroke-width="0.35">c</text>
<text transform="translate(312.70,352.30) scale(1.0,0.98)" font-size="12.3" text-anchor="middle" fill="#111" stroke="#111" stroke-width="0.35">d</text>
<text transform="translate(344.90,368.60) scale(1.0,0.98)" font-size="12.3" text-anchor="middle" fill="#111" stroke="#111" stroke-width="0.35">e</text>
<text transform="translate(378.20,385.80) scale(1.0,0.98)" font-size="12.3" text-anchor="middle" fill="#111" stroke="#111" stroke-width="0.35">f</text>
<text transform="translate(410.40,391.80) scale(1.0,0.98)" font-size="12.3" text-anchor="middle" fill="#111" stroke="#111" stroke-width="0.35">f</text>
</g>
</svg>
</body></html>
